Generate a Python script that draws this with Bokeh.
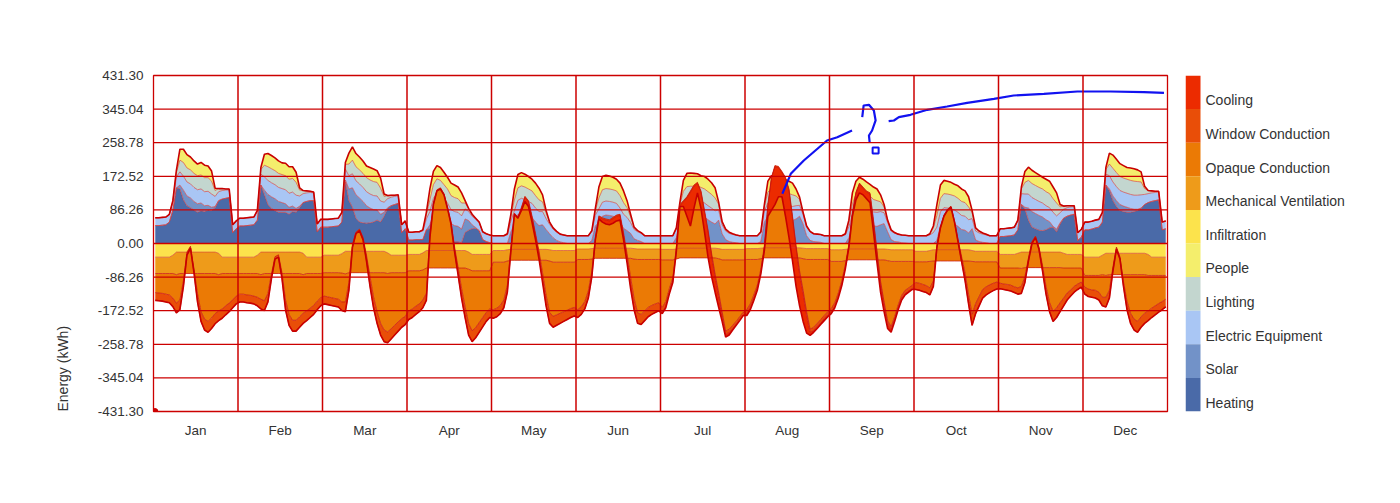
import numpy as np
from bokeh.plotting import figure
from bokeh.layouts import row
from bokeh.core.properties import value
from bokeh.models import (ColumnDataSource, Range1d, FixedTicker, Title,
                          NumeralTickFormatter, Span)
from bokeh.embed import file_html
from bokeh.resources import INLINE

months = ["Jan", "Feb", "Mar", "Apr", "May", "Jun", "Jul", "Aug", "Sep", "Oct", "Nov", "Dec"]
hours_per_day = 24
y_ticks = [-431.30, -345.04, -258.78, -172.52, -86.26, 0.00, 86.26, 172.52, 258.78, 345.04, 431.30]

# ---------------- gains (typical day per month, hourly, kWh) ----------------
heating = [
    [46,46,47,48,55,85,143,140,112,97,92,86,80,84,82,86,85,92,110,114,116,118,28,38],
    [45,45,46,47,48,60,150,125,100,90,85,80,80,80,75,82,80,92,105,108,110,110,30,42],
    [42,42,43,44,45,55,158,110,93,65,55,53,52,53,55,60,55,70,90,97,100,103,28,38],
    [9,9,10,10,10,35,38,40,34,20,9,6,3,4,4,2,28,34,38,39,33,10,5,2],
    [0,0,0,0,0,0,0,0,0,0,0,0,0,0,0,0,0,0,0,0,0,0,0,0],
    [0,0,0,0,0,0,0,0,0,0,0,0,0,0,0,0,0,0,0,0,0,0,0,0],
    [0,0,0,0,0,0,0,0,0,0,0,0,0,0,0,0,0,0,0,0,0,0,0,0],
    [0,0,0,0,0,0,0,0,0,0,0,0,0,0,0,0,0,0,0,0,0,0,0,0],
    [0,0,0,0,0,0,0,0,0,0,0,0,0,0,0,0,0,0,0,0,0,0,0,0],
    [0,0,0,0,0,0,0,0,0,0,0,0,0,0,0,0,0,0,0,0,0,0,0,0],
    [18,18,19,20,22,35,100,88,60,42,38,34,33,35,40,42,30,50,65,70,73,75,8,16],
    [35,35,37,40,42,55,150,135,110,95,85,82,80,80,82,85,90,100,105,108,110,112,35,38],
]
solar = [
    [0,0,0,0,0,0,0,10,25,25,25,22,22,20,15,12,8,3,0,0,0,0,0,0],
    [0,0,0,0,0,0,0,12,26,30,30,28,25,22,18,14,10,4,0,0,0,0,0,0],
    [0,0,0,0,0,0,5,30,50,60,62,55,45,38,32,26,20,10,2,0,0,0,0,0],
    [0,0,0,0,0,0,10,40,60,70,70,62,48,42,40,35,35,25,10,2,0,0,0,0],
    [0,0,0,0,0,30,50,75,80,77,72,67,55,46,48,36,25,15,8,4,2,0,0,0],
    [0,0,0,0,8,45,55,70,73,72,70,67,55,39,33,26,12,8,5,0,0,0,0,0],
    [0,0,0,0,15,60,70,75,75,75,75,72,68,61,55,50,60,25,10,5,3,2,0,0],
    [0,0,0,0,5,55,70,72,72,70,68,66,60,59,63,70,50,20,8,5,4,3,0,0],
    [0,0,0,0,0,15,40,58,68,64,58,54,45,44,48,51,30,10,5,4,2,1,0,0],
    [0,0,0,0,0,0,8,45,56,55,53,50,44,36,34,27,38,9,5,3,2,0,0,0],
    [0,0,0,0,0,0,0,5,31,40,39,38,35,26,16,2,7,3,0,0,0,0,0,0],
    [0,0,0,0,0,0,0,5,12,15,15,14,13,10,6,3,1,0,0,0,0,0,0,0],
]
equipment = [
    [20,20,20,20,20,22,28,34,36,36,36,36,36,36,36,36,34,26,23,22,21,20,20,20],
    [20,20,20,20,20,22,28,34,36,36,36,36,36,36,36,36,34,26,23,22,21,20,20,20],
    [20,20,20,20,20,22,28,34,36,36,36,36,36,36,36,36,34,26,23,22,21,20,20,20],
    [20,20,20,20,22,28,34,36,36,36,36,36,36,36,36,34,26,23,22,21,20,20,20,20],
    [20,20,20,20,22,28,34,36,36,36,36,36,36,36,34,28,24,22,21,20,20,20,20,20],
    [20,20,20,20,22,28,34,36,36,36,36,36,36,36,34,28,24,22,21,20,20,20,20,20],
    [20,20,20,20,22,28,34,36,36,36,36,36,36,36,36,34,26,23,22,21,20,20,20,20],
    [20,20,20,20,22,28,34,36,36,36,36,36,36,36,34,28,24,22,21,20,20,20,20,20],
    [20,20,20,20,22,28,34,36,36,36,36,36,36,36,34,28,24,22,21,20,20,20,20,20],
    [20,20,20,20,22,28,34,36,36,36,36,36,36,36,36,34,26,23,22,21,20,20,20,20],
    [20,20,20,20,20,22,28,34,36,36,36,36,36,36,36,36,34,26,23,22,21,20,20,20],
    [20,20,20,20,20,22,28,34,36,36,36,36,36,36,36,36,34,26,23,22,21,20,20,20],
]
lighting = [
    [0,0,0,0,0,3,12,30,35,36,36,36,36,36,36,35,33,15,8,5,3,2,0,0],
    [0,0,0,0,0,3,12,30,35,36,36,36,36,36,36,35,33,15,8,5,3,2,0,0],
    [0,0,0,0,0,3,12,30,35,36,36,36,36,36,36,35,33,15,8,5,3,2,0,0],
    [0,0,0,0,3,12,30,35,36,36,36,36,36,36,35,33,15,8,5,3,2,0,0,0],
    [0,0,0,0,3,12,28,32,32,32,32,32,32,30,25,15,6,3,2,0,0,0,0,0],
    [0,0,0,0,3,12,28,32,32,32,32,32,32,30,25,15,6,3,2,0,0,0,0,0],
    [0,0,0,0,3,12,30,35,36,36,36,36,36,36,35,33,15,8,5,3,2,0,0,0],
    [0,0,0,0,3,12,28,32,32,32,32,32,32,30,25,15,6,3,2,0,0,0,0,0],
    [0,0,0,0,3,12,28,32,32,32,32,32,32,30,25,15,6,3,2,0,0,0,0,0],
    [0,0,0,0,3,12,30,35,36,36,36,36,36,36,35,33,15,8,5,3,2,0,0,0],
    [0,0,0,0,0,3,12,30,35,36,36,36,36,36,36,35,33,15,8,5,3,2,0,0],
    [0,0,0,0,0,3,12,30,35,36,36,36,36,36,36,35,33,15,8,5,3,2,0,0],
]
people = [
    [0,0,0,0,0,0,5,28,34,34,33,32,30,32,32,30,26,6,0,0,0,0,0,0],
    [0,0,0,0,0,0,5,28,34,34,33,32,30,32,32,30,26,6,0,0,0,0,0,0],
    [0,0,0,0,0,0,5,28,34,34,33,32,30,32,32,30,26,6,0,0,0,0,0,0],
    [0,0,0,0,0,5,28,34,34,33,32,30,32,32,30,26,6,0,0,0,0,0,0,0],
    [0,0,0,0,0,5,28,34,34,33,32,30,32,30,18,6,0,0,0,0,0,0,0,0],
    [0,0,0,0,0,5,28,34,34,33,32,30,32,30,18,6,0,0,0,0,0,0,0,0],
    [0,0,0,0,0,5,28,34,34,33,32,30,32,32,30,26,6,0,0,0,0,0,0,0],
    [0,0,0,0,0,5,28,34,34,33,32,30,32,30,18,6,0,0,0,0,0,0,0,0],
    [0,0,0,0,0,5,28,34,34,33,32,30,32,30,18,6,0,0,0,0,0,0,0,0],
    [0,0,0,0,0,5,28,34,34,33,32,30,32,32,30,26,6,0,0,0,0,0,0,0],
    [0,0,0,0,0,0,5,28,34,34,33,32,30,32,32,30,26,6,0,0,0,0,0,0],
    [0,0,0,0,0,0,5,28,34,34,33,32,30,32,32,30,26,6,0,0,0,0,0,0],
]

# ---------------- losses (stacked downward from zero) ----------------
infiltration = [
    [-35,-35,-35,-35,-35,-30,-22,-22,-22,-22,-22,-22,-22,-22,-22,-22,-22,-22,-25,-35,-35,-35,-35,-35],
    [-35,-35,-35,-35,-35,-30,-22,-22,-22,-22,-22,-22,-22,-22,-22,-22,-22,-22,-25,-35,-35,-35,-35,-35],
    [-30,-30,-30,-30,-30,-26,-20,-20,-20,-20,-20,-20,-20,-20,-20,-20,-20,-20,-24,-30,-30,-30,-30,-30],
    [-28,-28,-28,-28,-24,-18,-18,-18,-18,-18,-18,-18,-18,-18,-18,-18,-18,-22,-28,-28,-28,-28,-28,-28],
    [-18,-18,-18,-18,-16,-15,-15,-15,-15,-15,-15,-15,-15,-15,-15,-15,-16,-18,-18,-18,-18,-18,-18,-18],
    [-14,-14,-14,-14,-13,-12,-12,-12,-12,-12,-12,-12,-12,-12,-12,-12,-13,-14,-14,-14,-14,-14,-14,-14],
    [-15,-15,-15,-15,-14,-12,-12,-12,-12,-12,-12,-12,-12,-12,-12,-12,-13,-15,-15,-15,-15,-15,-15,-15],
    [-13,-13,-13,-13,-12,-11,-11,-11,-11,-11,-11,-11,-11,-11,-11,-11,-12,-13,-13,-13,-13,-13,-13,-13],
    [-16,-16,-16,-16,-15,-14,-14,-14,-14,-14,-14,-14,-14,-14,-14,-14,-15,-16,-16,-16,-16,-16,-16,-16],
    [-20,-20,-20,-20,-18,-16,-16,-16,-16,-16,-16,-16,-16,-16,-16,-16,-18,-20,-20,-20,-20,-20,-20,-20],
    [-28,-28,-28,-28,-28,-25,-22,-22,-22,-22,-22,-22,-22,-22,-22,-22,-22,-22,-25,-28,-28,-28,-28,-28],
    [-35,-35,-35,-35,-35,-30,-25,-25,-25,-25,-25,-25,-25,-25,-25,-25,-25,-25,-28,-35,-35,-35,-35,-35],
]
ventilation = [
    [-42,-42,-42,-42,-42,-47,-58,-55,-55,-55,-55,-55,-55,-55,-55,-55,-55,-55,-55,-42,-42,-42,-42,-42],
    [-42,-42,-42,-42,-42,-47,-58,-55,-55,-55,-55,-55,-55,-55,-55,-55,-55,-55,-55,-42,-42,-42,-42,-42],
    [-45,-45,-45,-45,-45,-50,-58,-55,-55,-55,-55,-55,-55,-55,-55,-55,-55,-55,-53,-45,-45,-45,-45,-45],
    [-42,-42,-42,-42,-44,-45,-45,-45,-45,-45,-45,-45,-45,-45,-45,-45,-45,-44,-42,-42,-42,-42,-42,-42],
    [-30,-30,-30,-30,-29,-28,-28,-28,-28,-28,-28,-28,-28,-28,-28,-28,-29,-30,-30,-30,-30,-30,-30,-30],
    [-27,-27,-27,-27,-27,-26,-26,-26,-26,-26,-26,-26,-26,-26,-26,-26,-27,-27,-27,-27,-27,-27,-27,-27],
    [-27,-27,-27,-27,-26,-25,-25,-25,-25,-25,-25,-25,-25,-25,-25,-25,-26,-27,-27,-27,-27,-27,-27,-27],
    [-28,-28,-28,-28,-27,-26,-26,-26,-26,-26,-26,-26,-26,-26,-26,-26,-27,-28,-28,-28,-28,-28,-28,-28],
    [-30,-30,-30,-30,-29,-28,-28,-28,-28,-28,-28,-28,-28,-28,-28,-28,-29,-30,-30,-30,-30,-30,-30,-30],
    [-27,-27,-27,-27,-28,-29,-29,-29,-29,-29,-29,-29,-29,-29,-29,-29,-28,-27,-27,-27,-27,-27,-27,-27],
    [-35,-35,-35,-35,-35,-38,-42,-40,-40,-40,-40,-40,-40,-40,-40,-40,-40,-40,-38,-35,-35,-35,-35,-35],
    [-47,-47,-47,-47,-47,-50,-57,-55,-55,-55,-55,-55,-55,-55,-55,-55,-55,-55,-54,-47,-47,-47,-47,-47],
]
opaque = [
    [-49,-50,-51,-53,-55,-63,-73,-68,-18,55,70,12,-51,-98,-117,-123,-114,-103,-93,-91,-83,-76,-67,-58],
    [-53,-53,-55,-56,-58,-61,-63,-70,-51,-1,43,48,2,-68,-105,-120,-120,-111,-99,-96,-89,-82,-71,-62],
    [-60,-62,-64,-66,-68,-74,-72,-25,73,104,112,91,45,-10,-62,-100,-130,-147,-150,-144,-135,-126,-118,-112],
    [-103,-98,-91,-85,-77,-65,84,167,201,206,191,157,119,55,3,-52,-99,-139,-154,-146,-133,-120,-107,-98],
    [-122,-118,-111,-97,-62,31,121,111,136,164,153,114,69,23,-32,-89,-132,-139,-135,-131,-127,-123,-119,-116],
    [-129,-121,-108,-81,-31,53,109,104,101,99,105,111,113,66,12,-48,-101,-137,-141,-132,-123,-118,-114,-111],
    [-122,-107,-74,-46,30,137,147,157,172,187,194,172,122,72,12,-41,-86,-133,-183,-178,-168,-158,-146,-134],
    [-129,-114,-91,-66,-27,32,137,207,237,235,222,207,177,107,32,-33,-81,-134,-179,-174,-164,-154,-144,-134],
    [-121,-106,-81,-50,-10,40,122,174,197,187,177,172,102,22,-55,-108,-154,-167,-142,-112,-87,-74,-68,-61],
    [-53,-55,-58,-61,-68,-51,41,89,118,133,141,104,56,12,-30,-85,-136,-107,-89,-71,-64,-59,-55,-52],
    [-39,-41,-42,-44,-48,-51,-46,-23,25,67,81,53,6,-48,-89,-112,-103,-90,-77,-64,-56,-47,-41,-36],
    [-30,-35,-37,-38,-43,-58,-56,-40,20,71,46,-18,-68,-99,-114,-120,-108,-99,-91,-84,-78,-72,-67,-61],
]
window = [
    [-20,-20,-20,-20,-20,-22,-25,-25,-15,-8,-5,-10,-22,-25,-28,-28,-27,-26,-25,-24,-23,-22,-21,-20],
    [-20,-20,-20,-20,-20,-22,-25,-25,-22,-12,-6,-6,-15,-25,-28,-28,-28,-27,-26,-25,-24,-23,-22,-21],
    [-20,-20,-20,-20,-20,-22,-25,-20,-8,-4,-4,-6,-15,-25,-28,-30,-30,-30,-28,-26,-25,-24,-22,-21],
    [-22,-22,-21,-20,-20,-18,-6,-4,-3,-3,-3,-4,-6,-12,-20,-25,-28,-30,-28,-26,-25,-24,-23,-22],
    [-22,-22,-21,-20,-18,-8,-3,-3,-3,-3,-3,-4,-6,-12,-20,-26,-28,-28,-27,-26,-25,-24,-23,-22],
    [-20,-20,-19,-18,-14,-5,-3,-3,-3,-3,-3,-3,-3,-8,-16,-24,-27,-27,-26,-25,-24,-23,-22,-21],
    [-12,-12,-11,-10,-8,-3,-3,-3,-3,-3,-3,-3,-4,-5,-6,-7,-8,-8,-8,-8,-8,-8,-8,-8],
    [-10,-10,-10,-9,-8,-5,-3,-3,-3,-3,-3,-3,-4,-5,-6,-7,-8,-8,-8,-8,-8,-8,-8,-8],
    [-10,-10,-10,-9,-8,-5,-3,-3,-3,-3,-3,-3,-4,-5,-6,-7,-8,-8,-8,-8,-8,-8,-8,-8],
    [-18,-18,-18,-18,-18,-14,-6,-4,-3,-3,-3,-4,-6,-12,-20,-25,-28,-26,-24,-22,-21,-20,-19,-18],
    [-14,-14,-15,-15,-15,-16,-18,-15,-8,-5,-4,-6,-14,-20,-24,-26,-25,-23,-20,-18,-16,-15,-14,-13],
    [-18,-19,-19,-20,-20,-22,-25,-20,-10,-5,-6,-12,-22,-26,-28,-28,-27,-26,-25,-24,-23,-22,-21,-20],
]
cooling = [
    [0,0,0,0,0,0,0,0,0,0,0,0,0,0,0,0,0,0,0,0,0,0,0,0],
    [0,0,0,0,0,0,0,0,0,0,0,0,0,0,0,0,0,0,0,0,0,0,0,0],
    [0,0,0,0,0,0,0,0,0,0,0,0,0,0,0,0,0,0,0,0,0,0,0,0],
    [0,0,0,0,0,0,0,0,0,0,0,0,0,0,0,0,0,0,0,0,0,0,0,0],
    [0,0,0,0,0,0,0,0,-5,-10,-12,-12,-10,-8,-5,-2,0,0,0,0,0,0,0,0],
    [0,0,0,0,0,0,-5,-8,-10,-10,-12,-12,-12,-10,-8,-5,-2,0,0,0,0,0,0,0],
    [-4,-4,-3,-2,-2,-2,-12,-47,-87,-57,-24,-42,-51,-65,-54,-40,-30,-17,-7,-7,-4,-2,-2,-1],
    [-5,-5,-4,-4,-4,-8,-27,-82,-97,-75,-62,-97,-121,-110,-99,-83,-72,-47,-8,-5,-5,-5,-5,-5],
    [-3,-3,-3,-3,-3,-3,-7,-17,-22,-17,-17,-22,-26,-25,-22,-18,-12,-7,-4,-4,-4,-4,-3,-3],
    [0,0,0,0,0,0,0,0,0,0,0,0,0,0,0,0,0,0,0,0,0,0,0,0],
    [0,0,0,0,0,0,0,0,0,0,0,0,0,0,0,0,0,0,0,0,0,0,0,0],
    [0,0,0,0,0,0,0,0,0,0,0,0,0,0,0,0,0,0,0,0,0,0,0,0],
]

# hand-drawn annotation (x in hour-of-chart index, y in kWh)
scribble_x = [178.6, 181.0, 184.7, 188.0, 191.3, 194.2, 198.4]
scribble_y = [127.6, 178.9, 213.1, 238.8, 264.4, 272.9, 290.1]
question_x = [201.3, 201.7, 203.2, 204.6, 205.1, 204.1, 203.2, 203.4]
question_y = [324.3, 354.3, 356.1, 341.5, 315.8, 290.1, 277.3, 260.1]
question_dot_x = [205.1]
question_dot_y = [238.8]
tail_x = [208.8, 210.3, 211.7, 215.0, 219.8, 225.4, 231.1, 238.7, 244.3, 252.9, 262.4, 271.8, 281.3, 287.0]
tail_y = [314.0, 315.8, 324.3, 330.4, 343.2, 351.7, 361.2, 371.5, 380.0, 384.3, 390.2, 390.2, 388.4, 386.9]
corner_dot_x = [0.4]
corner_dot_y = [-431.3]

gain_keys = ["heating", "solar", "equipment", "lighting", "people"]
gain_labels = ["Heating", "Solar", "Electric Equipment", "Lighting", "People"]
gain_colors = ["#4a6aa8", "#7292c8", "#a9c6f4", "#c3d6cf", "#f4ee6c"]
loss_keys = ["infiltration", "ventilation", "opaque", "window", "cooling"]
loss_labels = ["Infiltration", "Mechanical Ventilation", "Opaque Conduction", "Window Conduction", "Cooling"]
loss_colors = ["#fce34c", "#ee9b1a", "#eb7a05", "#e94e08", "#ec2b00"]

n = len(months) * hours_per_day
data = {"x": np.arange(n) + 0.5}
for k, arr in zip(gain_keys + loss_keys,
                  [heating, solar, equipment, lighting, people,
                   infiltration, ventilation, opaque, window, cooling]):
    data[k] = np.ravel(np.array(arr, dtype=float))
src = ColumnDataSource(data)

FONT = "Liberation Sans"
RED = "#cc0000"
FRAME_W, FRAME_H = 1014, 336
LEFT, TOP, BOTTOM, GAP = 153, 75, 76, 18
TOTAL_H = TOP + FRAME_H + BOTTOM

p = figure(width=LEFT + FRAME_W + GAP, height=TOTAL_H, frame_width=FRAME_W, frame_height=FRAME_H,
           x_range=Range1d(0, n), y_range=Range1d(-431.3, 431.3),
           output_backend="svg", toolbar_location=None, title=None,
           min_border_left=LEFT, min_border_right=GAP, min_border_top=TOP, min_border_bottom=BOTTOM)
p.background_fill_color = "white"
p.border_fill_color = "white"
p.outline_line_color = RED
p.outline_line_width = 1.3

p.varea_stack(gain_keys, x="x", source=src, color=gain_colors)
p.vline_stack(gain_keys, x="x", source=src,
              line_color=["#d43a3a", "#d43a3a", "#d43a3a", "#d43a3a", "#c80000"],
              line_width=[1, 1, 1, 1, 1.6], line_alpha=[0.65, 0.65, 0.65, 0.65, 1.0])
p.varea_stack(loss_keys, x="x", source=src, color=loss_colors)
p.vline_stack(loss_keys, x="x", source=src,
              line_color=["#d43a3a", "#c81010", "#c81010", "#c81010", "#c80000"],
              line_width=[1, 1, 1, 1, 1.6], line_alpha=[0.6, 0.7, 0.7, 0.7, 1.0])

# annotation strokes
BLUE = "#1212f0"
p.line(scribble_x, scribble_y, line_color=BLUE, line_width=2.2)
p.line(question_x, question_y, line_color=BLUE, line_width=2.2)
p.line(tail_x, tail_y, line_color=BLUE, line_width=2.2)
p.scatter(question_dot_x, question_dot_y, marker="square", size=6, fill_color="white",
          line_color=BLUE, line_width=2)
p.scatter(corner_dot_x, corner_dot_y, size=6, color=RED)

# axes
month_centers = [hours_per_day * i + hours_per_day // 2 for i in range(len(months))]
month_edges = [hours_per_day * i for i in range(1, len(months))]
p.xaxis.ticker = FixedTicker(ticks=month_centers)
p.xaxis.major_label_overrides = {c: m for c, m in zip(month_centers, months)}
p.yaxis.ticker = FixedTicker(ticks=y_ticks)
p.yaxis.formatter = NumeralTickFormatter(format="0.00")
for ax in (p.xaxis, p.yaxis):
    ax.axis_line_color = None
    ax.major_tick_line_color = None
    ax.minor_tick_line_color = None
    ax.major_tick_out = 0
    ax.major_tick_in = 0
    ax.major_label_text_font = FONT
    ax.major_label_text_font_size = "13.5px"
    ax.major_label_text_color = "#333333"
p.xaxis.major_label_standoff = 11
p.yaxis.major_label_standoff = 10

# red grid drawn above the areas
p.xgrid.grid_line_color = None
p.ygrid.grid_line_color = None
for e in month_edges:
    p.add_layout(Span(location=e, dimension="height", line_color=RED, line_width=1.5))
for t in y_ticks[1:-1]:
    p.add_layout(Span(location=t, dimension="width", line_color=RED, line_width=1.3))

ylabel = Title(text="Energy (kWh)", align="left", text_font=FONT, text_font_size="14px",
               text_font_style="normal", text_color="#333333", standoff=48)
p.add_layout(ylabel, "left")

# ---------------- legend panel (continuous colour column, Cooling on top) ----------------
# the row aligns this panel's frame with the chart frame, so its y range spans the frame rows
LEG_W = 1384 - (LEFT + FRAME_W + GAP)
leg_labels = (gain_labels + loss_labels)[::-1]
leg_colors = (gain_colors + loss_colors)[::-1]
block = FRAME_H / len(leg_labels)
leg_top = [TOP + i * block for i in range(len(leg_labels))]
leg_bottom = [t + block for t in leg_top]
leg_text_y = [t + block * 0.74 for t in leg_top]

pl = figure(width=LEG_W, height=TOTAL_H, x_range=Range1d(0, LEG_W),
            y_range=Range1d(TOP + FRAME_H, TOP),
            x_axis_type=None, y_axis_type=None, output_backend="svg", toolbar_location=None,
            min_border=0, title=None)
pl.outline_line_color = None
pl.background_fill_color = "white"
pl.border_fill_color = "white"
pl.grid.visible = False
pl.quad(left=0, right=15, top=leg_top, bottom=leg_bottom, fill_color=leg_colors, line_color=None)
pl.text(x=[20] * len(leg_labels), y=leg_text_y, text=leg_labels,
        text_font=value(FONT), text_font_size="14px", text_color="#333333",
        text_baseline="middle", text_align="left")

layout = row(p, pl)
open("out.html", "w").write(file_html(layout, INLINE))
